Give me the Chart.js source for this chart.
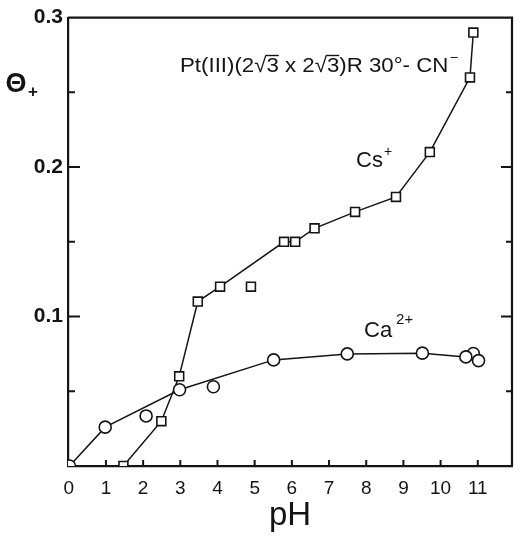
<!DOCTYPE html>
<html><head><meta charset="utf-8">
<script src="https://cdn.jsdelivr.net/npm/chart.js@4.4.1/dist/chart.umd.min.js"></script>
<style>html,body{margin:0;padding:0;background:#fff}</style>
</head><body>
<canvas id="c" width="520" height="537" style="width:520px;height:537px;display:block"></canvas>
<script>
// ---- data ----
const xTicks = [0,1,2,3,4,5,6,7,8,9,10,11];
const yTicks = [0.05,0.1,0.15,0.2,0.25,0.3];
const yLabelled = [0.1,0.2,0.3];

const csLineX = [1.47,2.49,2.97,3.47,4.07,5.79,6.09,6.61,7.70,8.80,9.71,10.79,10.88];
const csLineY = [0,0.030,0.060,0.110,0.120,0.150,0.150,0.159,0.170,0.180,0.210,0.260,0.290];
const csIsoX = [4.90];
const csIsoY = [0.120];

const caLineX = [0.02,0.98,2.98,5.51,7.49,9.51,10.68];
const caLineY = [0,0.026,0.051,0.071,0.075,0.0755,0.073];
const caIsoX = [2.08,3.89,10.88,11.02];
const caIsoY = [0.0335,0.053,0.0753,0.0705];

const pts = (xs, ys) => xs.map((v,i)=>({x:v, y:ys[i]}));
const isLab = v => yLabelled.some(l => Math.abs(l-v) < 1e-9);

const INK = '#141414';
const FONT = '"Liberation Sans", Arial, sans-serif';

const deco = {
  id: 'deco',
  afterDatasetsDraw(chart){
    const {ctx, chartArea:a, scales:{x,y}} = chart;
    ctx.save();
    ctx.strokeStyle = INK; ctx.fillStyle = INK;
    // top and right frame
    ctx.lineWidth = 2.2;
    ctx.beginPath();
    ctx.moveTo(a.left, a.top); ctx.lineTo(a.right, a.top); ctx.lineTo(a.right, a.bottom);
    ctx.stroke();
    // inward ticks
    ctx.lineWidth = 2;
    yTicks.forEach(v => {
      if (v >= 0.299) return;
      const py = y.getPixelForValue(v);
      const m = isLab(v);
      ctx.beginPath();
      ctx.moveTo(a.left, py); ctx.lineTo(a.left + (m?12:7), py);
      ctx.moveTo(a.right, py); ctx.lineTo(a.right - (m?11:6), py);
      ctx.stroke();
    });
    xTicks.forEach(v => {
      if (v === 0) return;
      const px = x.getPixelForValue(v);
      ctx.beginPath(); ctx.moveTo(px, a.bottom); ctx.lineTo(px, a.bottom - 6); ctx.stroke();
    });

    // y-axis title: Theta with subscript +
    ctx.textBaseline = 'middle'; ctx.textAlign = 'center';
    ctx.font = 'bold 27px ' + FONT;
    ctx.fillText('Θ', 16, 85);
    ctx.font = 'bold 17px ' + FONT;
    ctx.fillText('+', 33, 92);

    // long label with overlines
    ctx.textAlign = 'left';
    const segs = [['Pt(III)(2√',''],['3','o'],[' x 2√',''],['3','o'],[')R 30°- CN',''],['−','s']];
    const fMain = '21px ' + FONT, fSup = '14px ' + FONT;
    let total = 0;
    segs.forEach(s => { ctx.font = s[1]==='s'?fSup:fMain; total += ctx.measureText(s[0]).width; });
    const x0 = 180, x1 = 457, yc = 66;
    const k = (x1 - x0) / total;
    ctx.save();
    ctx.translate(x0, yc); ctx.scale(k, 1);
    let cx = 0;
    ctx.lineWidth = 1.4;
    segs.forEach(s => {
      ctx.font = s[1]==='s'?fSup:fMain;
      const w = ctx.measureText(s[0]).width;
      if (s[1]==='s') { ctx.fillText(s[0], cx+1, -8); }
      else ctx.fillText(s[0], cx, 0);
      if (s[1]==='o') { ctx.beginPath(); ctx.moveTo(cx-1, -10.5); ctx.lineTo(cx+w, -10.5); ctx.stroke(); }
      cx += w;
    });
    ctx.restore();

    // series labels
    ctx.font = '22px ' + FONT;
    ctx.fillText('Cs', 356, 161);
    let w = ctx.measureText('Cs').width;
    ctx.font = '14px ' + FONT;
    ctx.fillText('+', 356 + w + 1, 152);
    ctx.font = '22px ' + FONT;
    ctx.fillText('Ca', 364, 331);
    w = ctx.measureText('Ca').width;
    ctx.font = '15px ' + FONT;
    ctx.fillText('2+', 364 + w + 4, 320);
    ctx.restore();
  }
};

const lineDs = (label, data, style, r) => ({
  label, data, showLine: true, borderColor: INK, borderWidth: 1.5,
  pointStyle: style, pointRadius: r, pointBorderWidth: 1.6,
  pointBackgroundColor: '#fff', pointBorderColor: INK, backgroundColor: '#fff'
});
const isoDs = (label, data, style, r) => ({
  label, data, showLine: false,
  pointStyle: style, pointRadius: r, pointBorderWidth: 1.6,
  pointBackgroundColor: '#fff', pointBorderColor: INK
});

new Chart(document.getElementById('c'), {
  type: 'scatter',
  data: {
    datasets: [
      lineDs('Ca2+', pts(caLineX, caLineY), 'circle', 6),
      isoDs('Ca2+ (off-line)', pts(caIsoX, caIsoY), 'circle', 6),
      lineDs('Cs+', pts(csLineX, csLineY), 'rect', 6.3),
      isoDs('Cs+ (off-line)', pts(csIsoX, csIsoY), 'rect', 6.3)
    ]
  },
  options: {
    responsive: false, animation: false, devicePixelRatio: 1,
    layout: { padding: { top: 11, right: 8, left: 0, bottom: 0 } },
    plugins: { legend: { display: false }, tooltip: { enabled: false } },
    scales: {
      x: {
        type: 'linear', min: -0.02, max: 11.92,
        afterBuildTicks: s => { s.ticks = xTicks.map(v => ({value: v})); },
        afterFit: s => { s.height = 71; },
        ticks: { color: INK, font: { family: FONT, size: 19 }, padding: 11, maxRotation: 0, autoSkip: false,
                 callback: v => String(v) },
        grid: { drawOnChartArea: false, drawTicks: false },
        border: { display: true, width: 2.2, color: INK },
        title: { display: true, text: 'pH', color: INK, font: { family: FONT, size: 33 }, padding: { top: 0, bottom: 1 } }
      },
      y: {
        type: 'linear', min: 0, max: 0.3,
        afterBuildTicks: s => { s.ticks = yTicks.map(v => ({value: v})); },
        afterFit: s => { s.width = 68; },
        ticks: { color: INK, font: { family: FONT, size: 21, weight: 'bold' }, padding: 5, autoSkip: false,
                 callback: v => isLab(v) ? v.toFixed(1) : '' },
        grid: { drawOnChartArea: false, drawTicks: false },
        border: { display: true, width: 2.2, color: INK }
      }
    }
  },
  plugins: [deco]
});
</script>
</body></html>
